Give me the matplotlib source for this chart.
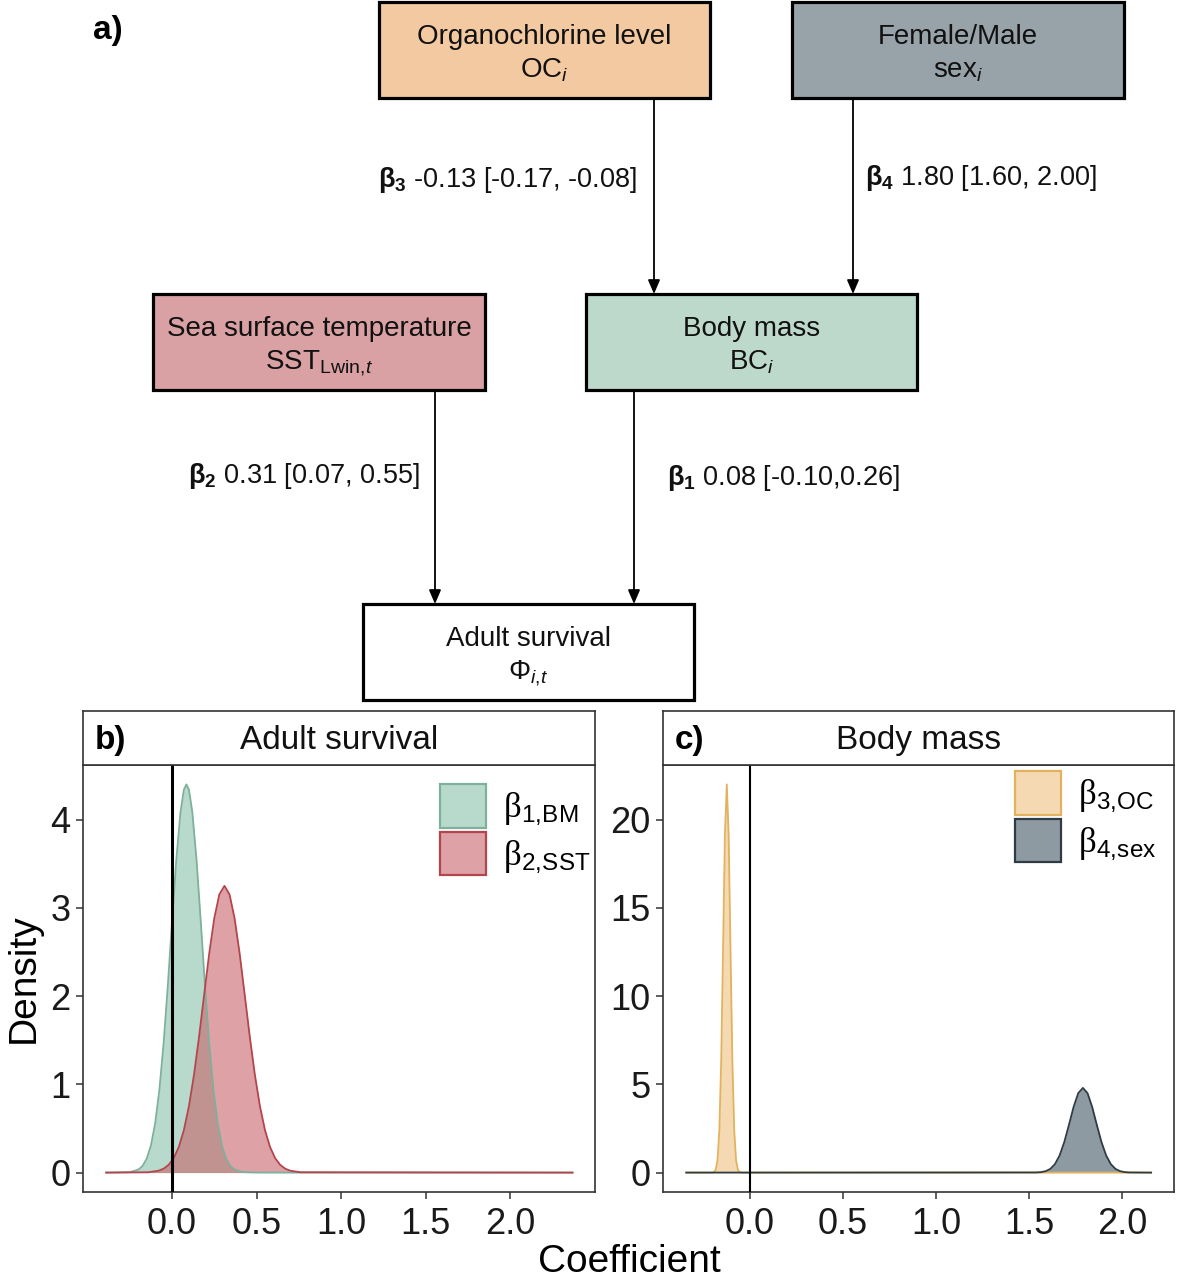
import matplotlib
matplotlib.use('Agg')
import matplotlib.pyplot as plt
from matplotlib.patches import Rectangle, Patch
from matplotlib.colors import to_rgba

plt.rcParams['font.family'] = ['Liberation Sans', 'DejaVu Sans']
plt.rcParams['mathtext.fontset'] = 'custom'
plt.rcParams['mathtext.rm'] = 'Liberation Sans'
plt.rcParams['mathtext.it'] = 'Liberation Sans:italic'
plt.rcParams['mathtext.bf'] = 'Liberation Sans:bold'
plt.rcParams['mathtext.tt'] = 'Liberation Serif'

# ---------------- data ----------------
box_titles = ["Organochlorine level", "Female/Male", "Sea surface temperature",
              "Body mass", "Adult survival"]
box_symbols = [r"OC$_{\mathit{i}}$", r"sex$_{\mathit{i}}$",
               r"SST$_{\mathrm{Lwin,}\!\mathit{t}}$", r"BC$_{\mathit{i}}$",
               r"$\Phi_{\mathit{i,\!t}}$"]
coef_names = [r"$\mathbf{\beta_3}$", r"$\mathbf{\beta_4}$",
              r"$\mathbf{\beta_2}$", r"$\mathbf{\beta_1}$"]
coef_text = ["-0.13 [-0.17, -0.08]", "1.80 [1.60, 2.00]",
             "0.31 [0.07, 0.55]", "0.08 [-0.10,0.26]"]

# posterior densities (coefficient, density)
b1_x = [-0.39, -0.25, -0.20, -0.175, -0.15, -0.125, -0.10, -0.075, -0.05, -0.025,
        0.0, 0.025, 0.05, 0.07, 0.085, 0.10, 0.12, 0.145, 0.17, 0.195,
        0.22, 0.245, 0.27, 0.295, 0.32, 0.345, 0.37, 0.42, 0.52, 2.37]
b1_d = [0, 0.005, 0.033, 0.074, 0.157, 0.307, 0.557, 0.938, 1.463, 2.119,
        2.845, 3.542, 4.086, 4.34, 4.40, 4.34, 4.086, 3.542, 2.845, 2.119,
        1.463, 0.938, 0.557, 0.307, 0.157, 0.074, 0.033, 0.005, 0, 0]
b2_x = [-0.39, -0.14, -0.08, -0.05, -0.02, 0.01, 0.04, 0.07, 0.10, 0.13,
        0.16, 0.19, 0.22, 0.25, 0.28, 0.31, 0.34, 0.37, 0.40, 0.43,
        0.46, 0.49, 0.52, 0.55, 0.58, 0.61, 0.64, 0.67, 0.70, 0.76, 2.37]
b2_d = [0, 0.004, 0.021, 0.044, 0.088, 0.164, 0.290, 0.481, 0.753, 1.110,
        1.541, 2.016, 2.484, 2.884, 3.154, 3.25, 3.154, 2.884, 2.484, 2.016,
        1.541, 1.110, 0.753, 0.481, 0.290, 0.164, 0.088, 0.044, 0.021, 0.004, 0]
b3_x = [-0.343, -0.215, -0.205, -0.195, -0.185, -0.175, -0.165, -0.155, -0.145, -0.135,
        -0.125, -0.115, -0.105, -0.095, -0.085, -0.075, -0.065, -0.055, -0.045, -0.035,
        2.157]
b3_d = [0, 0, 0.003, 0.025, 0.15, 0.69, 2.40, 6.32, 12.64, 19.16,
        22.0, 19.16, 12.64, 6.32, 2.40, 0.69, 0.15, 0.025, 0.003, 0,
        0]
b4_x = [-0.343, 1.54, 1.565, 1.59, 1.615, 1.64, 1.665, 1.69, 1.715, 1.74,
        1.765, 1.79, 1.815, 1.84, 1.865, 1.89, 1.915, 1.94, 1.965, 1.99,
        2.015, 2.04, 2.157]
b4_d = [0, 0.008, 0.027, 0.081, 0.211, 0.483, 0.975, 1.73, 2.70, 3.72,
        4.50, 4.80, 4.50, 3.72, 2.70, 1.73, 0.975, 0.483, 0.211, 0.081,
        0.027, 0.008, 0]

legend_b = [r"$\mathtt{\beta}_{\mathrm{1,\!BM}}$", r"$\mathtt{\beta}_{\mathrm{2,\!SST}}$"]
legend_c = [r"$\mathtt{\beta}_{\mathrm{3,\!OC}}$", r"$\mathtt{\beta}_{\mathrm{4,\!sex}}$"]
x_ticks = [0.0, 0.5, 1.0, 1.5, 2.0]
y_ticks_b = [0, 1, 2, 3, 4]
y_ticks_c = [0, 5, 10, 15, 20]

# ---------------- figure ----------------
W, H = 1179, 1280
fig = plt.figure(figsize=(W / 100, H / 100), dpi=100)

dax = fig.add_axes([0, 0, 1, 1], zorder=0)
dax.set_xlim(0, W)
dax.set_ylim(H, 0)
dax.axis('off')

box_rects = [(379, 2, 710, 98), (792, 2, 1124, 98), (153, 294, 485, 390),
             (586, 294, 917, 390), (363, 604, 694, 700)]
box_colors = ['#F2C9A0', '#98A3A9', '#D9A1A3', '#BDD9CC', '#FFFFFF']
for (x0, y0, x1, y1), c, t, s in zip(box_rects, box_colors, box_titles, box_symbols):
    dax.add_patch(Rectangle((x0, y0), x1 - x0, y1 - y0, facecolor=c,
                            edgecolor='black', lw=2.3))
    cx = (x0 + x1) / 2
    dax.text(cx, y0 + 42, t, ha='center', va='baseline', fontsize=20, color='#111111')
    dax.text(cx, y0 + 75, s, ha='center', va='baseline', fontsize=20, color='#111111')

arrows = [(654, 98, 294), (853, 98, 294), (435, 390, 604), (634, 390, 604)]
for x, ya, yb in arrows:
    dax.annotate('', xy=(x, yb), xytext=(x, ya),
                 arrowprops=dict(arrowstyle='-|>,head_length=0.7,head_width=0.3',
                                 lw=1.3, color='black', shrinkA=0, shrinkB=0,
                                 mutation_scale=12))

coef_pos = [(637, 180, 'right'), (865, 178, 'left'), (420, 476, 'right'), (667, 478, 'left')]
for (x, y, ha), n, t in zip(coef_pos, coef_names, coef_text):
    dax.text(x, y, n + " " + t, ha=ha, va='center', fontsize=19.5, color='#111111')

dax.text(93, 31, "a)", ha='left', va='center', fontsize=24, fontweight='bold')


def fx(px):
    return px / W


def fy(py):
    return 1 - py / H


spine_c = '#333333'
AX_TOP, AX_BOT = 765, 1192


def make_panel(left, right, xlim, ylim, yticks, series, labels, strip_title, tag,
               vline_lw, leg_right, leg_top):
    ax = fig.add_axes([fx(left), fy(AX_BOT), fx(right) - fx(left), fy(AX_TOP) - fy(AX_BOT)],
                      zorder=2)
    for x, d, fc, ec, a in series:
        ax.fill_between(x, d, 0, color=fc, alpha=a, lw=0)
        ax.plot(x, d, color=ec, lw=1.3)
    ax.axvline(0, color='black', lw=vline_lw, zorder=5)
    ax.set_xlim(*xlim)
    ax.set_ylim(*ylim)
    ax.set_xticks(x_ticks)
    ax.set_xticklabels([f"{v:.1f}" for v in x_ticks])
    ax.set_yticks(yticks)
    ax.tick_params(labelsize=26, length=5, width=1.1, color=spine_c,
                   labelcolor='#1a1a1a')
    ax.tick_params(axis='x', pad=6)
    ax.tick_params(axis='y', pad=4)
    for s in ax.spines.values():
        s.set_color(spine_c)
        s.set_linewidth(1.2)
    handles = [Patch(facecolor=to_rgba(fc, a), edgecolor=ec, lw=1.6)
               for _, _, fc, ec, a in series]
    anchor = ((leg_right - left) / (right - left), 1 - (leg_top - AX_TOP) / (AX_BOT - AX_TOP))
    ax.legend(handles, labels, loc='upper right', bbox_to_anchor=anchor, frameon=False,
              fontsize=25, handlelength=1.33, handleheight=1.57, labelspacing=0.1,
              handletextpad=0.5, borderaxespad=0, borderpad=0)

    sax = fig.add_axes([fx(left), fy(765), fx(right) - fx(left), fy(711) - fy(765)], zorder=2)
    sax.set_xticks([])
    sax.set_yticks([])
    for s in sax.spines.values():
        s.set_color(spine_c)
        s.set_linewidth(1.2)
    sax.text(0.5, 0.45, strip_title, ha='center', va='center', fontsize=24,
             transform=sax.transAxes, color='#111111')
    sax.text(12 / (right - left), 0.45, tag, ha='left', va='center', fontsize=24,
             fontweight='bold', transform=sax.transAxes)
    return ax


series_b = [(b1_x, b1_d, '#8DC4AE', '#7FB09C', 0.62),
            (b2_x, b2_d, '#C65E66', '#B4454D', 0.58)]
series_c = [(b3_x, b3_d, '#F0C58A', '#E2B35F', 0.65),
            (b4_x, b4_d, '#5F707B', '#2F3C44', 0.7)]

make_panel(83, 595, (-0.527, 2.503), (-0.22, 4.62), y_ticks_b, series_b, legend_b,
           "Adult survival", "b)", 2.2, 591, 784)
make_panel(663, 1174, (-0.468, 2.28), (-1.1, 23.1), y_ticks_c, series_c, legend_c,
           "Body mass", "c)", 1.5, 1157, 771)

fig.text(fx(24), fy(978), "Density", rotation=90, ha='center', va='center', fontsize=28)
fig.text(fx(629), fy(1262), "Coefficient", ha='center', va='center', fontsize=28)

fig.savefig('out.png', dpi=100)
